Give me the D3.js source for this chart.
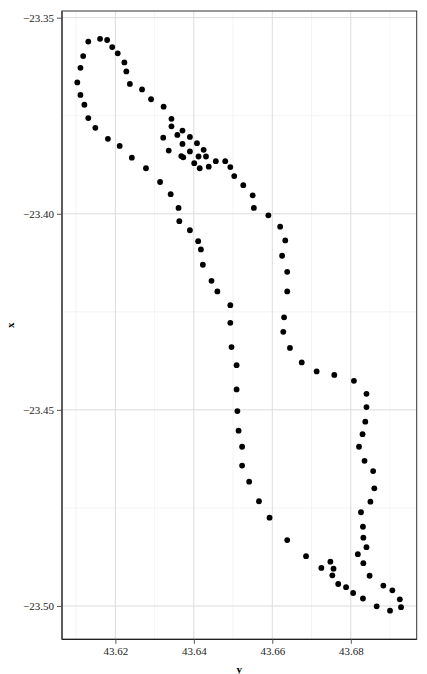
<!DOCTYPE html>
<html>
<head>
<meta charset="utf-8">
<script src="https://cdn.jsdelivr.net/npm/d3@7"></script>
<style>
  body { margin: 0; background: #fff; }
  svg { display: block; font-family: "Liberation Serif", "DejaVu Serif", serif; }
</style>
</head>
<body>
<svg></svg>
<script>
// horizontal axis is titled "y", vertical axis is titled "x"
const yValues = [
  43.6131, 43.6161, 43.6179, 43.6192, 43.6206, 43.6223, 43.6228, 43.6237, 43.6268, 43.6291,
  43.6323, 43.6343, 43.6343, 43.6322, 43.6336, 43.6358, 43.6371, 43.6371, 43.6368, 43.6373,
  43.6390, 43.6390, 43.6408, 43.6425, 43.6412, 43.6431, 43.6401, 43.6415, 43.6438, 43.6456,
  43.6480, 43.6493, 43.6503, 43.6526, 43.6550, 43.6553, 43.6590, 43.6620, 43.6633, 43.6625,
  43.6638, 43.6638, 43.6630, 43.6628, 43.6645, 43.6675, 43.6713, 43.6758, 43.6808, 43.6840,
  43.6840, 43.6837, 43.6830, 43.6821, 43.6835, 43.6857, 43.6860, 43.6850, 43.6826, 43.6831,
  43.6832, 43.6840, 43.6818, 43.6832, 43.6848, 43.6883, 43.6906, 43.6925, 43.6928, 43.6900,
  43.6866, 43.6831, 43.6806, 43.6788, 43.6768, 43.6753, 43.6756, 43.6748, 43.6725, 43.6686,
  43.6638, 43.6593, 43.6566, 43.6541, 43.6523, 43.6523, 43.6514, 43.6511, 43.6509, 43.6509,
  43.6496, 43.6493, 43.6493, 43.6460, 43.6445, 43.6423, 43.6418, 43.6411, 43.6390, 43.6363,
  43.6361, 43.6341, 43.6314, 43.6278, 43.6242, 43.6211, 43.6181, 43.6149, 43.6131, 43.6121,
  43.6111, 43.6103, 43.6111, 43.6118
]
const xValues = [
  -23.3561, -23.3554, -23.3557, -23.3575, -23.3591, -23.3614, -23.3637, -23.3669, -23.3683, -23.3708,
  -23.3727, -23.3758, -23.3777, -23.3806, -23.3839, -23.3799, -23.3788, -23.3822, -23.3853, -23.3856,
  -23.3804, -23.3841, -23.3820, -23.3837, -23.3854, -23.3854, -23.3871, -23.3884, -23.3880, -23.3866,
  -23.3866, -23.3881, -23.3904, -23.3927, -23.3953, -23.3985, -23.4004, -23.4033, -23.4068, -23.4107,
  -23.4148, -23.4198, -23.4264, -23.4301, -23.4342, -23.4379, -23.4402, -23.4411, -23.4426, -23.4459,
  -23.4493, -23.4530, -23.4562, -23.4594, -23.4630, -23.4656, -23.4700, -23.4734, -23.4761, -23.4798,
  -23.4826, -23.4850, -23.4868, -23.4891, -23.4923, -23.4948, -23.4960, -23.4983, -23.5003, -23.5012,
  -23.5001, -23.4981, -23.4967, -23.4952, -23.4944, -23.4922, -23.4905, -23.4887, -23.4903, -23.4873,
  -23.4832, -23.4775, -23.4733, -23.4683, -23.4642, -23.4594, -23.4553, -23.4503, -23.4448, -23.4386,
  -23.4340, -23.4278, -23.4233, -23.4198, -23.4171, -23.4130, -23.4091, -23.4070, -23.4042, -23.4019,
  -23.3985, -23.3950, -23.3919, -23.3884, -23.3857, -23.3827, -23.3809, -23.3781, -23.3756, -23.3722,
  -23.3697, -23.3665, -23.3628, -23.3598
]
const yTicks = [43.62, 43.64, 43.66, 43.68]
const yMinor = [43.61, 43.63, 43.65, 43.67, 43.69]
const xTicks = [-23.35, -23.40, -23.45, -23.50]
const xMinor = [-23.375, -23.425, -23.475]

const data = yValues.map((v, i) => ({ y: v, x: xValues[i] }))

const width = 427
const height = 674
const margin = { top: 11, right: 10.3, bottom: 34.7, left: 62 }
const plotWidth = width - margin.left - margin.right
const plotHeight = height - margin.top - margin.bottom

const svg = d3.select('svg')
  .attr('width', width)
  .attr('height', height)

const g = svg.append('g')
  .attr('transform', `translate(${margin.left}, ${margin.top})`)

const xScale = d3.scaleLinear().domain([43.6064, 43.6968]).range([0, plotWidth])
const yScale = d3.scaleLinear().domain([-23.5085, -23.3483]).range([plotHeight, 0])

// minor grid
g.selectAll('.vminor').data(yMinor).enter().append('line')
  .attr('x1', d => xScale(d)).attr('x2', d => xScale(d))
  .attr('y1', 0).attr('y2', plotHeight)
  .attr('stroke', '#ececec').attr('stroke-width', 0.6)
g.selectAll('.hminor').data(xMinor).enter().append('line')
  .attr('y1', d => yScale(d)).attr('y2', d => yScale(d))
  .attr('x1', 0).attr('x2', plotWidth)
  .attr('stroke', '#ececec').attr('stroke-width', 0.6)

// major grid
g.selectAll('.vmajor').data(yTicks).enter().append('line')
  .attr('x1', d => xScale(d)).attr('x2', d => xScale(d))
  .attr('y1', 0).attr('y2', plotHeight)
  .attr('stroke', '#dcdcdc').attr('stroke-width', 1)
g.selectAll('.hmajor').data(xTicks).enter().append('line')
  .attr('y1', d => yScale(d)).attr('y2', d => yScale(d))
  .attr('x1', 0).attr('x2', plotWidth)
  .attr('stroke', '#dcdcdc').attr('stroke-width', 1)

// points
g.selectAll('.dot')
  .data(data)
  .enter().append('circle')
  .attr('class', 'dot')
  .attr('cx', d => xScale(d.y))
  .attr('cy', d => yScale(d.x))
  .attr('r', 2.9)
  .attr('fill', '#000')

// panel border
g.append('rect')
  .attr('width', plotWidth).attr('height', plotHeight)
  .attr('fill', 'none').attr('stroke', '#333').attr('stroke-width', 1)
g.append('line')
  .attr('x1', 0).attr('x2', 0).attr('y1', 0).attr('y2', plotHeight)
  .attr('stroke', '#555').attr('stroke-width', 1.8)
g.append('line')
  .attr('x1', 0).attr('x2', plotWidth).attr('y1', plotHeight).attr('y2', plotHeight)
  .attr('stroke', '#111').attr('stroke-width', 1)

// axes
const xAxis = g.append('g')
  .attr('transform', `translate(0, ${plotHeight})`)
  .call(d3.axisBottom(xScale).tickValues(yTicks).tickFormat(d3.format('.2f')).tickSize(4.5).tickPadding(3))
const yAxis = g.append('g')
  .call(d3.axisLeft(yScale).tickValues(xTicks).tickFormat(d3.format('.2f')).tickSize(5).tickPadding(3))

;[xAxis, yAxis].forEach(a => {
  a.select('.domain').remove()
  a.selectAll('line').attr('stroke', '#555')
  a.selectAll('text')
    .attr('fill', '#222')
    .style('font-family', '"Liberation Serif", serif')
    .style('font-size', '11px')
})

// axis titles
svg.append('text')
  .attr('x', margin.left + plotWidth / 2)
  .attr('y', 673)
  .attr('text-anchor', 'middle')
  .style('font-size', '11px')
  .style('font-weight', 'bold')
  .text('y')
svg.append('text')
  .attr('transform', `translate(14, ${margin.top + plotHeight / 2}) rotate(-90)`)
  .attr('text-anchor', 'middle')
  .style('font-size', '11px')
  .style('font-weight', 'bold')
  .text('x')
</script>
</body>
</html>
